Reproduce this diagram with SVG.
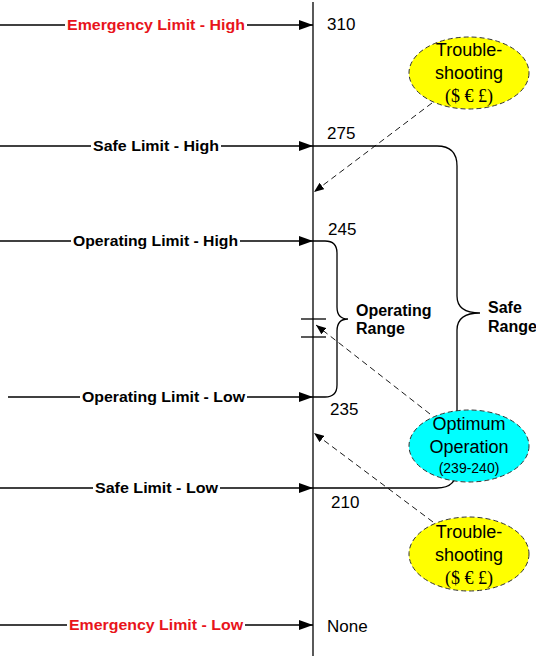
<svg xmlns="http://www.w3.org/2000/svg" width="536" height="668" viewBox="0 0 536 668">
<style>
.ln{stroke:#000;stroke-width:1.3;fill:none}
.ar{stroke:#000;stroke-width:1.3;fill:none;marker-end:url(#ah)}
.da{stroke:#000;stroke-width:0.9;fill:none;stroke-dasharray:6,4;marker-end:url(#dh)}
.lb{font-family:"Liberation Sans",Arial,sans-serif;font-weight:bold;font-size:15px;text-anchor:middle}
.red{fill:#E8141B}
.num{font-family:"Liberation Sans",Arial,sans-serif;font-size:17px;fill:#000}
.br{font-family:"Liberation Sans",Arial,sans-serif;font-weight:bold;font-size:16px;fill:#000}
.el{stroke:#333;stroke-width:1;stroke-dasharray:5,3}
.et{font-family:"Liberation Sans",Arial,sans-serif;font-size:18px;text-anchor:middle;fill:#000}
.es{font-family:"Liberation Serif","Times New Roman",serif;font-size:18px;text-anchor:middle;fill:#000}
</style>
<defs>
<marker id="ah" markerWidth="14" markerHeight="10" refX="14" refY="5" orient="auto" markerUnits="userSpaceOnUse">
<path d="M0,0 L14,5 L0,10 Z" fill="#000"/>
</marker>
<marker id="dh" markerWidth="10" markerHeight="8" refX="10" refY="4" orient="auto" markerUnits="userSpaceOnUse">
<path d="M0,0 L10,4 L0,8 Z" fill="#000"/>
</marker>
</defs>
<rect width="536" height="668" fill="#fff"/>

<g id="axis">
<line class="ln" x1="313" y1="2" x2="313" y2="656"/>
<line class="ln" x1="301" y1="319" x2="326" y2="319"/>
<line class="ln" x1="301" y1="337" x2="326" y2="337"/>
</g>

<g id="braces">
<path class="ln" d="M313,146 H437 Q457,146 457,166 V296 Q457,313 480,313 Q457,313 457,330 V468 Q457,488 437,488 H313"/>
<path class="ln" d="M313,241 H325 Q337,241 337,253 V307 Q337,319 348,319 Q337,319 337,331 V385 Q337,397 325,397 H313"/>
</g>

<g id="connectors">
<line class="ln" x1="0" y1="25" x2="65" y2="25"/>
<line class="ar" x1="247" y1="25" x2="313" y2="25"/>
<line class="ln" x1="0" y1="146" x2="91" y2="146"/>
<line class="ar" x1="221" y1="146" x2="313" y2="146"/>
<line class="ln" x1="0" y1="241" x2="71" y2="241"/>
<line class="ar" x1="240" y1="241" x2="313" y2="241"/>
<line class="ln" x1="8" y1="397" x2="80" y2="397"/>
<line class="ar" x1="247" y1="397" x2="313" y2="397"/>
<line class="ln" x1="0" y1="488" x2="93" y2="488"/>
<line class="ar" x1="220" y1="488" x2="313" y2="488"/>
<line class="ln" x1="0" y1="625" x2="67" y2="625"/>
<line class="ar" x1="245" y1="625" x2="313" y2="625"/>
<path class="da" d="M432,103 L314,192"/>
<path class="da" d="M430,414 L316,325"/>
<path class="da" d="M433,522 L314,433"/>
</g>

<g id="limit-labels">
<text class="lb red" x="156" y="30" textLength="178" lengthAdjust="spacingAndGlyphs">Emergency Limit - High</text>
<text class="lb" x="156" y="151" textLength="126" lengthAdjust="spacingAndGlyphs">Safe Limit - High</text>
<text class="lb" x="155.5" y="246" textLength="165" lengthAdjust="spacingAndGlyphs">Operating Limit - High</text>
<text class="lb" x="163.5" y="402" textLength="163" lengthAdjust="spacingAndGlyphs">Operating Limit - Low</text>
<text class="lb" x="156.5" y="493" textLength="123" lengthAdjust="spacingAndGlyphs">Safe Limit - Low</text>
<text class="lb red" x="156" y="630" textLength="174" lengthAdjust="spacingAndGlyphs">Emergency Limit - Low</text>
</g>

<g id="values">
<text class="num" x="327" y="30">310</text>
<text class="num" x="327" y="139">275</text>
<text class="num" x="328" y="235">245</text>
<text class="num" x="330" y="415">235</text>
<text class="num" x="331" y="508">210</text>
<text class="num" x="327" y="632">None</text>
</g>

<g id="range-labels">
<text class="br" x="356" y="316">Operating</text>
<text class="br" x="356" y="334">Range</text>
<text class="br" x="488" y="313">Safe</text>
<text class="br" x="488" y="332">Range</text>
</g>

<g id="trouble-top">
<ellipse class="el" cx="469" cy="73" rx="60" ry="36" fill="#FFFF00"/>
<text class="et" x="469" y="56">Trouble-</text>
<text class="et" x="469" y="79">shooting</text>
<text class="es" x="469" y="102">($ € £)</text>
</g>

<g id="optimum">
<ellipse class="el" cx="469" cy="446" rx="60" ry="36" fill="#00FFFF"/>
<text class="et" x="469" y="430">Optimum</text>
<text class="et" x="469" y="453">Operation</text>
<text class="et" x="469" y="473" style="font-size:14px">(239-240)</text>
</g>

<g id="trouble-bottom">
<ellipse class="el" cx="469" cy="554" rx="60" ry="37" fill="#FFFF00"/>
<text class="et" x="469" y="538">Trouble-</text>
<text class="et" x="469" y="561">shooting</text>
<text class="es" x="469" y="584">($ € £)</text>
</g>
</svg>
